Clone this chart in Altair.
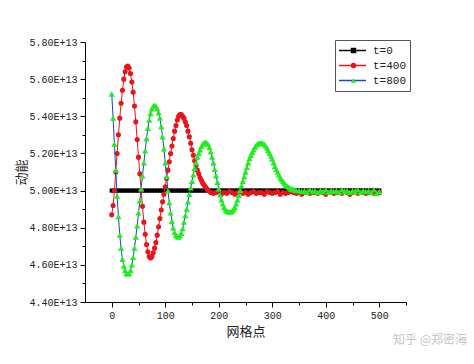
import altair as alt
import pandas as pd

# kinetic energy values, in units of 1E+13
# t=0 : every 5 grid points
x_t0 = list(range(0, 505, 5))
t0 = [5.00] * 101

# t=400 : every 2.5 grid points up to 180, then every 5
x_t400 = [i * 2.5 for i in range(0, 73)] + list(range(185, 505, 5))
t400 = [
    4.87, 4.92, 5.00, 5.10, 5.20, 5.30, 5.39, 5.47, 5.54, 5.60,
    5.64, 5.665, 5.67, 5.66, 5.63, 5.585, 5.53, 5.455, 5.37, 5.275,
    5.18, 5.09, 5.00, 4.915, 4.83, 4.765, 4.71, 4.67, 4.645, 4.637,
    4.645, 4.665, 4.69, 4.72, 4.76, 4.805, 4.85, 4.895, 4.94, 4.98,
    5.02, 5.065, 5.11, 5.155, 5.20, 5.24, 5.28, 5.32, 5.35, 5.38,
    5.40, 5.41, 5.41, 5.40, 5.39, 5.37, 5.35, 5.32, 5.29, 5.255,
    5.22, 5.19, 5.16, 5.135, 5.11, 5.09, 5.07, 5.055, 5.04, 5.03,
    5.02, 5.01, 5.00,
    4.99, 4.985, 4.99, 4.995, 4.98, 4.99, 4.985, 4.995, 4.99, 4.98,
    4.99, 4.995, 4.985, 4.99, 4.98, 4.99, 4.995, 4.985, 4.99, 4.99,
    4.98, 4.995, 4.99, 4.985, 4.99, 4.995, 4.98, 4.99, 4.985, 4.99,
    4.995, 4.99, 4.985, 4.99, 4.98, 4.99, 4.995, 4.985, 4.99, 4.99,
    4.985, 4.995, 4.99, 4.98, 4.99, 4.995, 4.985, 4.99, 4.99, 4.985,
    4.995, 4.99, 4.98, 4.99, 4.995, 4.985, 4.99, 4.99, 4.985, 4.99,
    4.99, 4.985, 4.99, 4.99,
]

# t=800 : every 2.5 grid points up to 345, then every 5
x_t800 = [i * 2.5 for i in range(0, 139)] + list(range(350, 505, 5))
t800 = [
    5.52, 5.39, 5.25, 5.11, 4.97, 4.86, 4.76, 4.69, 4.63, 4.595,
    4.57, 4.555, 4.55, 4.555, 4.57, 4.60, 4.64, 4.69, 4.75, 4.81,
    4.88, 4.945, 5.01, 5.08, 5.15, 5.215, 5.28, 5.335, 5.38, 5.415,
    5.44, 5.455, 5.46, 5.455, 5.44, 5.42, 5.39, 5.345, 5.29, 5.225,
    5.15, 5.075, 5.00, 4.935, 4.88, 4.835, 4.80, 4.775, 4.76, 4.752,
    4.75, 4.757, 4.77, 4.795, 4.83, 4.865, 4.90, 4.94, 4.98, 5.015,
    5.05, 5.085, 5.12, 5.15, 5.18, 5.20, 5.22, 5.238, 5.25, 5.257,
    5.26, 5.257, 5.25, 5.233, 5.21, 5.18, 5.15, 5.115, 5.08, 5.045,
    5.01, 4.978, 4.95, 4.928, 4.91, 4.898, 4.89, 4.886, 4.885, 4.886,
    4.89, 4.898, 4.91, 4.928, 4.95, 4.975, 5.00, 5.025, 5.05, 5.075,
    5.10, 5.125, 5.15, 5.172, 5.19, 5.206, 5.22, 5.234, 5.245, 5.251,
    5.255, 5.256, 5.256, 5.254, 5.25, 5.242, 5.23, 5.216, 5.20, 5.186,
    5.17, 5.15, 5.13, 5.115, 5.10, 5.085, 5.07, 5.06, 5.05, 5.04,
    5.03, 5.025, 5.02, 5.015, 5.01, 5.007, 5.005, 5.002, 5.00,
    5.00, 4.995, 5.00, 4.99, 5.005, 4.995, 5.00, 4.99, 5.00, 4.995,
    5.005, 4.99, 5.00, 4.995, 5.00, 4.99, 5.005, 4.995, 5.00, 4.99,
    5.00, 4.995, 5.005, 4.99, 5.00, 4.995, 5.00, 4.99, 5.005, 4.985,
    4.995,
]

assert len(x_t0) == len(t0)
assert len(x_t400) == len(t400)
assert len(x_t800) == len(t800)

series_names = ["t=0", "t=400", "t=800"]
marker_keys = ["m0", "m400", "m800"]
line_colors = ["#000000", "#e8141a", "#2040d0"]
marker_colors = ["#000000", "#e8141a", "#1eee1e"]
marker_shapes = ["square", "circle", "triangle-up"]
marker_sizes = [18, 26, 38]

y_ticks = [4.4, 4.5, 4.6, 4.7, 4.8, 4.9, 5.0, 5.1, 5.2, 5.3, 5.4, 5.5, 5.6, 5.7, 5.8]
x_ticks = [0, 50, 100, 150, 200, 250, 300, 350, 400, 450, 500, 550]

rows = []
for name, key, xs, vals in zip(series_names, marker_keys, [x_t0, x_t400, x_t800], [t0, t400, t800]):
    for g, v in zip(xs, vals):
        rows.append({"grid": g, "energy": v, "series": name, "marker": key})
df = pd.DataFrame(rows)

tick_font = "Liberation Mono"
cjk_font = "Noto Sans CJK SC"

x_enc = alt.X(
    "grid:Q",
    scale=alt.Scale(domain=[-50, 550], nice=False, zero=False),
    axis=alt.Axis(
        title="网格点",
        values=x_ticks,
        labelExpr="datum.value % 100 == 0 ? datum.label : ''",
        tickSize={"condition": {"test": "datum.value % 100 == 0", "value": 5}, "value": 3},
        labelOverlap=False,
        grid=False,
        domainColor="#000000",
        tickColor="#000000",
        labelColor="#222222",
        labelFont=tick_font,
        labelFontSize=10,
        labelPadding=3,
        titleFont=cjk_font,
        titleFontSize=13,
        titleFontWeight="normal",
        titleColor="#222222",
        titlePadding=5,
    ),
)

y_enc = alt.Y(
    "energy:Q",
    scale=alt.Scale(domain=[4.4, 5.8], nice=False, zero=False),
    axis=alt.Axis(
        title="动能",
        values=y_ticks,
        labelExpr="round(datum.value * 10) % 2 == 0 ? format(datum.value, '.2f') + 'E+13' : ''",
        tickSize={"condition": {"test": "round(datum.value * 10) % 2 == 0", "value": 5}, "value": 3},
        labelOverlap=False,
        grid=False,
        domainColor="#000000",
        tickColor="#000000",
        labelColor="#222222",
        labelFont=tick_font,
        labelFontSize=10,
        labelPadding=3,
        titleFont=cjk_font,
        titleFontSize=13,
        titleFontWeight="normal",
        titleColor="#222222",
        titleAngle=270,
        titleBaseline="middle",
        titleAlign="center",
        titleX=-64,
        titleY=130,
    ),
)

stroke_enc = alt.Stroke(
    "series:N",
    scale=alt.Scale(domain=series_names, range=line_colors),
    legend=alt.Legend(
        title=None,
        orient="none",
        legendX=250,
        legendY=-2,
        symbolType="stroke",
        symbolSize=729,
        symbolStrokeWidth=1.5,
        clipHeight=15,
        rowPadding=0,
        padding=3,
        labelOffset=6,
        labelFont=tick_font,
        labelFontSize=11,
        labelColor="#222222",
        strokeColor="#555555",
        fillColor="#ffffff",
    ),
)

marker_legend = alt.Legend(
    title=None,
    orient="none",
    legendX=260,
    legendY=-2,
    symbolSize=30,
    symbolStrokeWidth=0,
    clipHeight=15,
    rowPadding=0,
    padding=3,
    labelExpr="''",
    labelFontSize=11,
)

fill_enc = alt.Fill(
    "marker:N",
    scale=alt.Scale(domain=marker_keys, range=marker_colors),
    legend=marker_legend,
)

shape_enc = alt.Shape(
    "marker:N",
    scale=alt.Scale(domain=marker_keys, range=marker_shapes),
    legend=marker_legend,
)

layers = []
for name, size in zip(series_names, marker_sizes):
    base = alt.Chart(df).transform_filter(alt.datum.series == name)
    line = base.mark_line(strokeWidth=1).encode(x=x_enc, y=y_enc, stroke=stroke_enc)
    pts = base.mark_point(filled=True, size=size, opacity=1, strokeWidth=0).encode(
        x=x_enc, y=y_enc, fill=fill_enc, shape=shape_enc
    )
    layers.extend([line, pts])

watermark_df = pd.DataFrame({"t": ["知乎 @郑密海"]})
watermark = alt.Chart(watermark_df).mark_text(
    font=cjk_font, fontSize=12, color="#c4c4c4", align="left", baseline="middle"
).encode(text="t:N", x=alt.value(308), y=alt.value(298))
layers.append(watermark)

chart = (
    alt.layer(*layers)
    .properties(
        width=321,
        height=260,
        padding={"left": 85, "top": 42, "right": 68, "bottom": 62},
        autosize=alt.AutoSizeParams(type="none"),
        background="#ffffff",
    )
    .configure_view(stroke=None)
)

chart.save("out.html", embed_options={"renderer": "svg", "actions": False})
